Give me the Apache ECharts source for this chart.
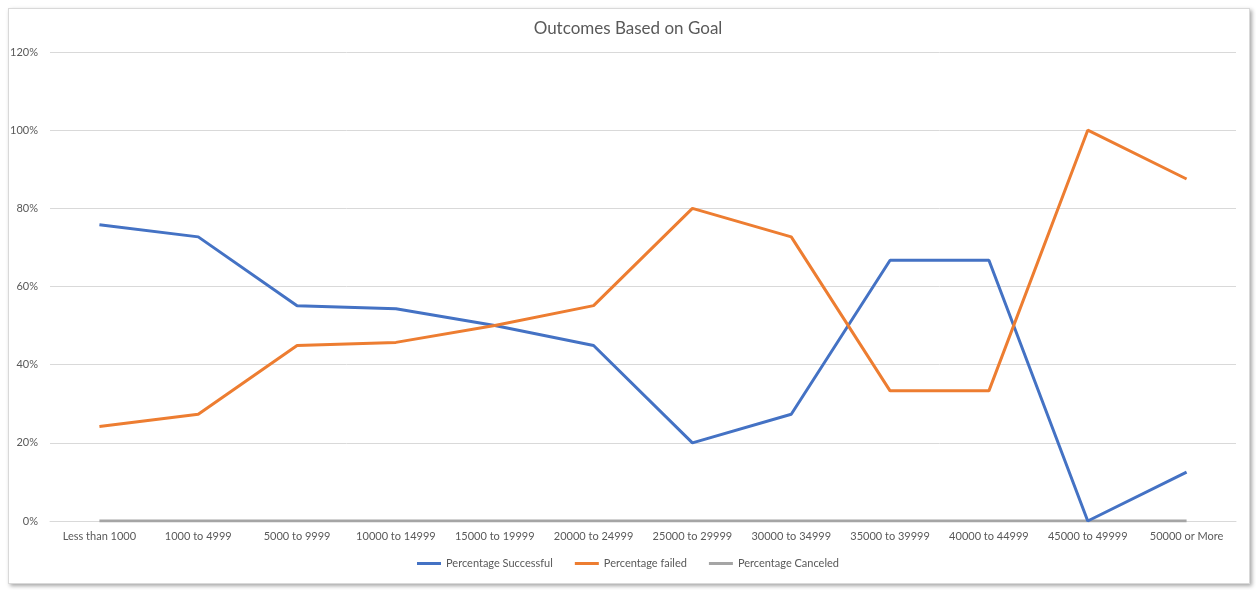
<!DOCTYPE html>
<html lang="en">
<head>
    <meta charset="UTF-8">
    <title>Outcomes Based on Goal</title>
    <script src="https://cdn.jsdelivr.net/npm/echarts@6/dist/echarts.min.js"></script>
    <style>
        body { margin: 0; background: #fff; }
        #frame { position: absolute; left: 8px; top: 8px; width: 1240px; height: 574px;
                 border: 1px solid #d9d9d9; box-shadow: 2px 2px 4px rgba(0,0,0,0.35); background: #fff; }
        #chart_div { position: absolute; left: 0; top: 0; width: 1256px; height: 590px; }
    </style>
</head>
<body>
    <div id="frame"></div>
    <div id="chart_div"></div>
    <script type="text/javascript">

       var categories = ['Less than 1000', '1000 to 4999', '5000 to 9999', '10000 to 14999',
                         '15000 to 19999', '20000 to 24999', '25000 to 29999', '30000 to 34999',
                         '35000 to 39999', '40000 to 44999', '45000 to 49999', '50000 or More'];
       var successful = [75.8, 72.7, 55.1, 54.3, 50.0, 44.9, 20.0, 27.3, 66.7, 66.7, 0, 12.5];
       var failed     = [24.2, 27.3, 44.9, 45.7, 50.0, 55.1, 80.0, 72.7, 33.3, 33.3, 100, 87.5];
       var canceled   = [0, 0, 0, 0, 0, 0, 0, 0, 0, 0, 0, 0];

       var font = 'Lato';
       var chart = echarts.init(document.getElementById("chart_div"));
       var options = {
            title: {
                text: 'Outcomes Based on Goal',
                left: 'center',
                top: 15,
                textStyle: { fontFamily: font, fontSize: 17, fontWeight: 'normal', color: '#595959' }
            },
            legend: {
                bottom: 16,
                left: 'center',
                icon: 'rect',
                itemWidth: 24,
                itemHeight: 3,
                itemGap: 22,
                textStyle: { fontFamily: font, fontSize: 11, color: '#595959' },
                data: ['Percentage Successful', 'Percentage failed', 'Percentage Canceled']
            },
            grid: { left: 50, right: 20, top: 52, bottom: 69, containLabel: false },
            xAxis: {
                type: 'category',
                data: categories,
                boundaryGap: true,
                axisTick: { show: false },
                axisLine: { lineStyle: { color: '#d9d9d9' } },
                axisLabel: { fontFamily: font, fontSize: 11, color: '#595959', margin: 10, interval: 0 }
            },
            yAxis: {
                type: 'value',
                min: 0, max: 120, interval: 20,
                axisLine: { show: false },
                axisTick: { show: false },
                splitLine: { lineStyle: { color: '#d9d9d9' } },
                axisLabel: { fontFamily: font, fontSize: 11, color: '#595959', formatter: '{value}%', margin: 12 }
            },
            series: [
                { name: 'Percentage Successful', type: 'line', data: successful, symbol: 'none',
                  lineStyle: { width: 3, color: '#4472C4' }, itemStyle: { color: '#4472C4' } },
                { name: 'Percentage failed', type: 'line', data: failed, symbol: 'none',
                  lineStyle: { width: 3, color: '#ED7D31' }, itemStyle: { color: '#ED7D31' } },
                { name: 'Percentage Canceled', type: 'line', data: canceled, symbol: 'none', z: 1,
                  lineStyle: { width: 3, color: '#A5A5A5' }, itemStyle: { color: '#A5A5A5' } }
            ]
       };
       chart.setOption(options);

    </script>
</body>
</html>
